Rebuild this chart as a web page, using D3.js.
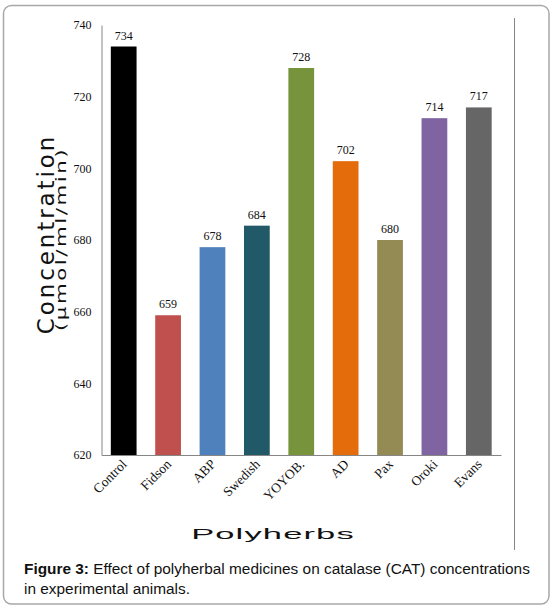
<!DOCTYPE html>
<html>
<head>
<meta charset="utf-8">
<script src="https://cdn.jsdelivr.net/npm/d3@7"></script>
<style>
  body { margin: 0; background: #fff; }
  svg { display: block; }
</style>
</head>
<body>
<svg></svg>
<script>
// chart data
let herbs = ['Control', 'Fidson', 'ABP', 'Swedish', 'YOYOB.', 'AD', 'Pax', 'Oroki', 'Evans']
let catValues = [734, 659, 678, 684, 728, 702, 680, 714, 717]
let barColors = ['#000000', '#c0504d', '#4f81bd', '#215968', '#77933c', '#e46c0a', '#948a54', '#8064a2', '#666666']
let yTicks = [620, 640, 660, 680, 700, 720, 740]

let width = 554
let height = 609
let svg = d3.select('svg')

let xScale
let yScale

let serif = '"Liberation Serif", "Times New Roman", serif'

let drawBoard = () => {
    svg.attr('width', width)
    svg.attr('height', height)

    // outer frame of the figure
    svg.append('rect')
        .attr('x', 3.5)
        .attr('y', 5.5)
        .attr('width', 545.5)
        .attr('height', 598.5)
        .attr('rx', 8)
        .attr('fill', 'none')
        .attr('stroke', '#a8a8a8')
        .attr('stroke-width', 1.5)

    // right border of the plot box
    svg.append('line')
        .attr('x1', 514.5).attr('x2', 514.5)
        .attr('y1', 18).attr('y2', 550)
        .attr('stroke', '#868686')
        .attr('stroke-width', 1)
}

let makeScales = () => {
    xScale = d3.scaleBand()
        .domain(herbs)
        .range([101.5, 501])
        .paddingInner(0.42)
        .paddingOuter(0.21)
    yScale = d3.scaleLinear()
        .domain([620, 740])
        .range([455, 25])
}

let makeBars = () => {
    let rows = herbs.map((h, i) => [h, catValues[i], barColors[i]])

    svg.selectAll('rect.bar')
        .data(rows)
        .enter()
        .append('rect')
        .attr('class', 'bar')
        .attr('x', (d) => xScale(d[0]))
        .attr('width', xScale.bandwidth())
        .attr('y', (d) => yScale(d[1]))
        .attr('height', (d) => yScale(620) - yScale(d[1]))
        .attr('fill', (d) => d[2])

    svg.selectAll('text.val')
        .data(rows)
        .enter()
        .append('text')
        .attr('class', 'val')
        .attr('x', (d) => xScale(d[0]) + xScale.bandwidth() / 2)
        .attr('y', (d) => yScale(d[1]) - 7)
        .attr('text-anchor', 'middle')
        .style('font-family', serif)
        .style('font-size', '12px')
        .attr('fill', '#111')
        .text((d) => d[1])
}

let makeAxes = () => {
    let yAxis = d3.axisLeft(yScale)
        .tickValues(yTicks)
        .tickSize(0)
        .tickSizeOuter(0)
        .tickPadding(10)
    let yG = svg.append('g')
        .attr('transform', 'translate(101.5,0)')
        .call(yAxis)
    yG.select('.domain').attr('stroke', '#868686')
    yG.selectAll('text')
        .style('font-family', serif)
        .style('font-size', '12px')
        .attr('fill', '#111')

    let xAxis = d3.axisBottom(xScale)
        .tickSize(0)
        .tickSizeOuter(0)
    let xG = svg.append('g')
        .attr('transform', 'translate(0,455)')
        .call(xAxis)
    xG.select('.domain').attr('stroke', '#868686')
    xG.selectAll('text')
        .attr('x', 0)
        .attr('y', 0)
        .attr('dy', 0)
        .attr('text-anchor', 'end')
        .attr('transform', 'translate(4,10) rotate(-45)')
        .style('font-family', serif)
        .style('font-size', '13.5px')
        .attr('fill', '#111')
}

let makeTitles = () => {
    // y axis title, two lines
    svg.append('text')
        .attr('transform', 'translate(53.5,234) rotate(-90)')
        .attr('text-anchor', 'middle')
        .style('font-family', '"DejaVu Sans", sans-serif')
        .style('font-size', '23px')
        .style('letter-spacing', '2.9px')
        .attr('fill', '#111')
        .text('Concentration')
    svg.append('text')
        .attr('transform', 'translate(65.5,239) rotate(-90) scale(1.6,1)')
        .attr('text-anchor', 'middle')
        .style('font-family', '"DejaVu Sans", sans-serif')
        .style('font-size', '13.3px')
        .style('letter-spacing', '1.6px')
        .attr('fill', '#111')
        .text('(μmol/ml/min)')

    svg.append('text')
        .attr('transform', 'translate(273,539) scale(2.3,1)')
        .attr('text-anchor', 'middle')
        .style('font-family', '"Liberation Sans", Arial, sans-serif')
        .style('font-size', '15px')
        .style('letter-spacing', '0.5px')
        .attr('fill', '#111')
        .text('Polyherbs')

    // caption
    let cap = svg.append('text')
        .attr('x', 24)
        .attr('y', 574)
        .style('font-family', '"Liberation Sans", Arial, sans-serif')
        .style('font-size', '15.4px')
        .attr('fill', '#111')
    cap.append('tspan').style('font-weight', 'bold').text('Figure 3:')
    cap.append('tspan').text(' Effect of polyherbal medicines on catalase (CAT) concentrations')
    svg.append('text')
        .attr('x', 24)
        .attr('y', 594)
        .style('font-family', '"Liberation Sans", Arial, sans-serif')
        .style('font-size', '15.4px')
        .attr('fill', '#111')
        .text('in experimental animals.')
}

drawBoard()
makeScales()
makeBars()
makeAxes()
makeTitles()
</script>
</body>
</html>
